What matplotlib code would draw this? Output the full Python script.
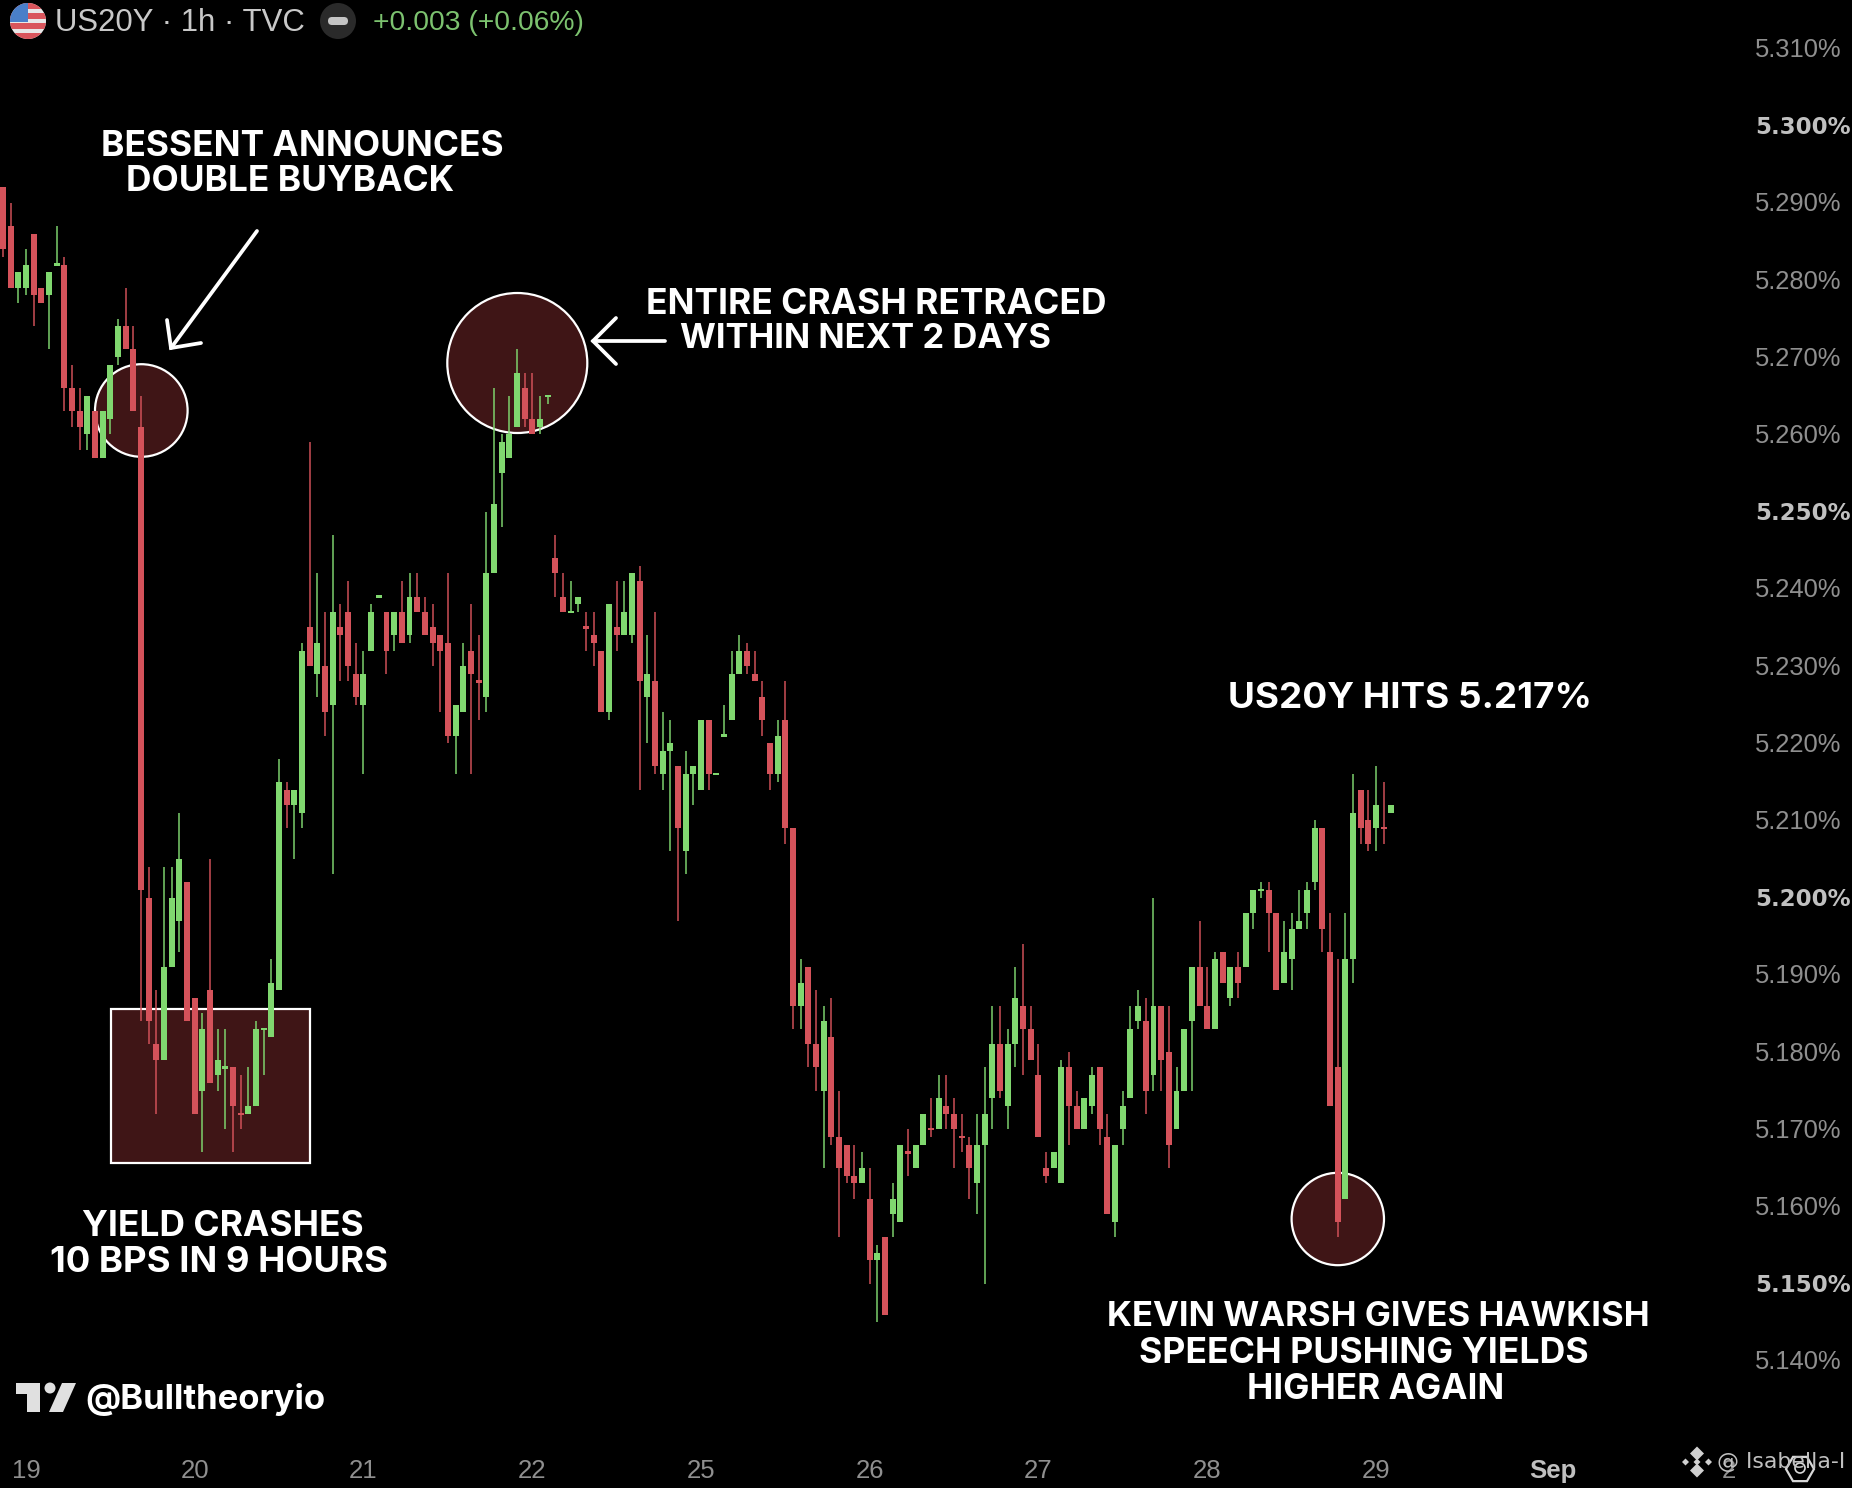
import numpy as np
import matplotlib
matplotlib.use("Agg")
import matplotlib.pyplot as plt
from matplotlib.patches import Circle, Rectangle, Polygon, FancyBboxPatch

# Open, high, low, close in thousandths above 5.000 (ten candles per row)
opens = [292,287,279,279,286,279,278,282,282,266,
         263,260,263,257,262,270,274,271,261,200,
         181,179,191,197,202,187,175,188,177,178,
         178,172,172,173,183,182,188,214,212,211,
         235,229,230,225,235,237,229,225,232,239,
         237,234,237,234,239,237,235,234,233,221,
         224,232,228,226,242,255,257,261,266,262,
         261,265,244,239,237,238,235,234,232,224,
         235,234,234,241,226,228,216,219,217,206,
         216,214,223,216,221,223,229,232,229,226,
         220,216,223,209,186,191,181,175,182,169,
         168,164,163,161,153,156,159,158,167,165,
         168,170,170,173,172,169,168,163,168,174,
         181,173,181,186,183,177,165,165,163,178,
         173,170,173,178,169,158,170,174,184,184,
         177,186,180,170,175,184,191,186,183,193,
         187,191,191,198,201,201,198,189,192,196,
         198,202,209,193,178,161,192,214,210,209,
         209,211]
highs = [292,290,281,284,286,279,281,287,283,269,
         266,265,263,263,269,275,279,274,265,204,
         188,204,204,211,202,187,185,205,183,183,
         178,177,178,184,183,192,218,215,214,233,
         259,242,237,247,238,241,233,232,238,239,
         237,237,241,242,242,239,238,234,242,225,
         233,238,234,250,266,260,265,271,268,268,
         265,265,247,242,241,239,237,237,232,238,
         241,241,242,243,234,237,224,223,217,219,
         217,223,223,216,225,232,234,233,232,228,
         220,223,228,209,192,191,188,186,187,175,
         168,168,167,165,155,156,163,168,170,168,
         172,174,177,177,174,172,169,172,178,186,
         186,183,191,194,186,181,167,167,179,180,
         175,174,178,178,172,168,175,186,188,187,
         200,186,186,178,183,191,197,191,193,193,
         191,193,198,201,202,202,198,197,198,201,
         202,210,209,198,192,198,216,214,214,217,
         215,212]
lows = [283,279,277,278,274,277,271,282,263,261,
        258,258,257,257,260,269,271,263,184,181,
        172,179,191,193,184,172,167,176,175,170,
        167,170,172,173,177,182,188,209,205,209,
        230,226,221,203,228,228,225,216,232,239,
        229,232,233,233,237,234,230,224,220,216,
        224,216,223,224,242,248,257,261,261,260,
        260,264,239,237,237,237,232,230,224,223,
        232,234,233,214,220,216,214,206,197,203,
        212,214,214,216,221,223,229,229,228,221,
        214,215,207,183,183,178,175,165,168,156,
        163,161,163,150,145,146,156,158,164,165,
        168,169,170,170,165,167,161,159,150,170,
        174,170,178,177,179,169,163,165,163,168,
        170,170,172,168,159,156,168,174,183,172,
        175,175,165,170,175,175,186,183,183,189,
        186,187,191,196,200,193,188,189,188,196,
        196,201,193,173,156,161,189,207,206,206,
        207,211]
closes = [284,279,281,282,278,277,281,282,266,263,
          261,265,257,263,269,274,271,263,201,184,
          179,191,200,205,184,172,183,176,179,178,
          173,172,173,183,183,189,215,212,214,232,
          230,233,224,237,234,230,226,229,237,239,
          232,237,233,239,237,234,233,232,221,225,
          230,229,228,242,251,259,260,268,262,260,
          262,265,242,237,237,239,235,233,224,238,
          234,237,242,228,229,217,219,220,209,216,
          217,223,216,216,221,229,232,230,228,223,
          216,221,209,186,189,181,178,184,169,165,
          164,163,165,153,154,146,161,168,167,168,
          172,170,174,172,170,169,165,168,172,181,
          175,181,187,183,179,169,164,167,178,173,
          170,174,177,170,159,168,173,183,186,175,
          186,179,168,175,183,191,186,183,192,189,
          191,189,198,201,201,198,188,193,196,197,
          201,209,196,173,158,192,211,209,207,212,
          209,212]
green_dojis = [7,29,34,49,71,74,93,94,164]

day_labels = ["19","20","21","22","25","26","27","28","29","Sep","2"]
day_index = [3,25,47,69,91,113,135,157,179,202,225]
price_ticks = [5.31,5.30,5.29,5.28,5.27,5.26,5.25,5.24,5.23,5.22,5.21,5.20,5.19,5.18,5.17,5.16,5.15,5.14]
major_ticks = [5.30,5.25,5.20,5.15]

W, H = 1852, 1488
GREEN, RED = "#80d76f", "#d4525a"
FILL = "#3f1516"
plt.rcParams["font.family"] = ["Inter", "DejaVu Sans"]

fig = plt.figure(figsize=(W/100, H/100), dpi=100, facecolor="black")
def px_axes(z):
    a = fig.add_axes([0, 0, 1, 1], zorder=z)
    a.set_xlim(0, W); a.set_ylim(H, 0); a.axis("off")
    return a
under = px_axes(0)
over = px_axes(2)

ax = fig.add_axes([0, 0, 1, 1], zorder=1)
ax.patch.set_alpha(0)
ax.set_xlim(-0.391, 241.07)
ax.set_ylim(5.12353, 5.31627)
for s in ax.spines.values():
    s.set_visible(False)
ax.set_xticks([]); ax.set_yticks([])

n = len(opens)
assert n == len(highs) == len(lows) == len(closes)
idx = np.arange(n)
o, h, l, c = [np.array(v)/1000 + 5 for v in (opens, highs, lows, closes)]
cols = [GREEN if closes[i] > opens[i] or i in green_dojis else RED for i in idx]
ax.vlines(idx, l, h, colors=cols, linewidth=1.25, alpha=0.85)
for i in idx:
    top, bot = max(o[i], c[i]), min(o[i], c[i])
    if top == bot:
        ax.add_patch(Rectangle((i-0.39, bot-0.00015), 0.78, 0.0003, color=cols[i], lw=0))
    else:
        ax.add_patch(Rectangle((i-0.39, bot), 0.78, top-bot, color=cols[i], lw=0))

under.add_patch(Rectangle((111, 1009), 199, 154, fc=FILL, ec="white", lw=1.6))
for cx, cy, r in [(141.3, 410.5, 46.3), (517.3, 363, 70), (1337.8, 1219, 46.2)]:
    under.add_patch(Circle((cx, cy), r, fc=FILL, ec="white", lw=1.6))

def stroke(pts):
    xs, ys = zip(*pts)
    over.plot(xs, ys, color="white", lw=2.7, solid_capstyle="round", solid_joinstyle="miter")
stroke([(257, 231), (171, 348)])
stroke([(167, 320), (171, 348), (201, 343)])
stroke([(665, 341), (593, 341)])
stroke([(616, 318), (593, 341), (616, 364)])

ann = dict(color="white", fontweight="bold", ha="center", va="center", family="Inter")
for txt, x, y, fs in [("BESSENT ANNOUNCES", 302, 146.5, 25.4), ("DOUBLE BUYBACK", 290, 181.5, 25.4),
                      ("ENTIRE CRASH RETRACED", 876, 304.5, 25.5), ("WITHIN NEXT 2 DAYS", 866, 339.5, 24.9),
                      ("US20Y HITS 5.217%", 1410, 698.5, 26.5),
                      ("YIELD CRASHES", 223, 1226.5, 25.5), ("10 BPS IN 9 HOURS", 219, 1262.5, 26.3),
                      ("KEVIN WARSH GIVES HAWKISH", 1378, 1317.5, 25), ("SPEECH PUSHING YIELDS", 1364, 1353.5, 25.7),
                      ("HIGHER AGAIN", 1376, 1389.5, 25.3)]:
    over.text(x, y, txt, fontsize=fs, **ann)

ylo, yhi = ax.get_ylim()
for p in price_ticks:
    y = H * (yhi - p) / (yhi - ylo) + 1.5
    major = p in major_ticks
    over.text(1755, y, f"{p:.3f}%", ha="left", va="center",
              fontsize=16.5 if major else 18.4,
              family="DejaVu Sans" if major else "Liberation Sans",
              color="#c0c0c0" if major else "#8f8f8f",
              fontweight="bold" if major else "normal")
xlo, xhi = ax.get_xlim()
for lab, i in zip(day_labels, day_index):
    x = W * (i - xlo) / (xhi - xlo)
    over.text(x, 1471, lab, ha="center", va="center", fontsize=18.5, family="Liberation Sans",
              color="#c0c0c0" if lab == "Sep" else "#8f8f8f",
              fontweight="bold" if lab == "Sep" else "normal")

flag = Circle((28, 21), 18, fc="#e8e8e8", ec="none")
over.add_patch(flag)
for y0 in (3, 13, 23, 33):
    r = Rectangle((10, y0), 36, 5.5, fc="#d9555c", ec="none"); over.add_patch(r); r.set_clip_path(flag)
r = Rectangle((10, 3), 18, 19, fc="#4a7fc9", ec="none"); over.add_patch(r); r.set_clip_path(flag)
over.text(55, 23, "US20Y · 1h · TVC", color="#c8c8c8", fontsize=22.4, family="Liberation Sans", va="center", ha="left")
over.add_patch(Circle((338, 21), 18, fc="#2a2a2a", ec="none"))
over.add_patch(FancyBboxPatch((328, 17), 20, 8, boxstyle="round,pad=0,rounding_size=4", fc="#c4c4c4", ec="none"))
over.text(373, 23, "+0.003 (+0.06%)", color="#7cc26f", fontsize=20.3, family="Liberation Sans", va="center", ha="left")

over.add_patch(Polygon([(16,1383),(40,1383),(40,1412),(27,1412),(27,1394),(16,1394)], fc="#e0e0e0", ec="none"))
over.add_patch(Circle((50,1388), 5.5, fc="#e0e0e0", ec="none"))
over.add_patch(Polygon([(62,1383),(76,1383),(63,1412),(49,1412)], fc="#e0e0e0", ec="none"))
over.text(85, 1399, "@Bulltheoryio", color="white", fontsize=24.9, fontweight="bold", family="Inter", va="center", ha="left")
for dx, dy, s in [(0,-8.5,7),(0,8.5,7),(-11.5,0,3.5),(11.5,0,3.5),(0,0,3.5)]:
    cx, cy = 1697+dx, 1462+dy
    over.add_patch(Polygon([(cx-s,cy),(cx,cy-s),(cx+s,cy),(cx,cy+s)], fc="#d0d0d0", ec="none"))
over.text(1717, 1462, "@ Isabella-I", color="#c0c0c0", fontsize=15.8, family="DejaVu Sans", va="center", ha="left")
ang = np.deg2rad(np.arange(0, 360, 60))
over.add_patch(Polygon(np.c_[1800+14*np.cos(ang), 1469+14*np.sin(ang)], fc="none", ec="#d8d8d8", lw=1.6))
over.add_patch(Circle((1800, 1468), 5, fc="none", ec="#d8d8d8", lw=1.2))

fig.savefig("out.png", dpi=100, facecolor="black")
